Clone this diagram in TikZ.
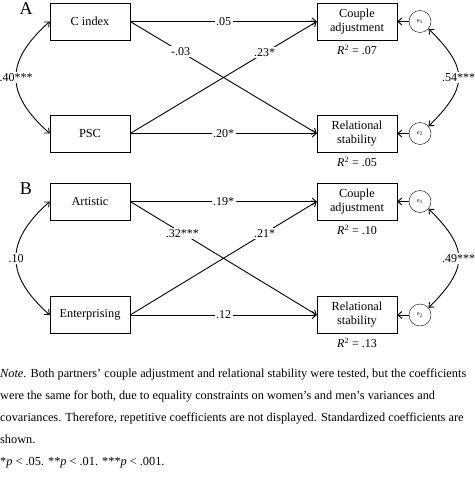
\documentclass[tikz,border=0pt]{standalone}
\usepackage{fontspec}
\setmainfont{Liberation Serif}
\usepackage{tikz}
\usetikzlibrary{arrows.meta,positioning}

\begin{document}
\begin{tikzpicture}[
    x=1pt, y=-1pt,
    node distance=1pt,
    box/.style={rectangle, draw, minimum width=80pt, minimum height=37pt, align=center, font=\fontsize{12.3}{14}\selectfont},
    err/.style={circle, draw, minimum size=22pt, inner sep=0pt, font=\fontsize{6}{7}\selectfont},
    coef/.style={fill=white, inner sep=1.5pt, font=\fontsize{12}{14}\selectfont},
    rsq/.style={font=\fontsize{12}{14}\selectfont},
    arrow/.style={->, >={Straight Barb[length=4pt,width=7pt]}, line width=0.9pt},
    both/.style={<->, >={Straight Barb[length=4pt,width=7pt]}, line width=0.9pt}
]
\useasboundingbox (0,0) rectangle (474,481);

% panel A
\node[font=\fontsize{18}{20}\selectfont] (labela) at (26,9) {A};
\node[box] (cindex) at (90,21.5) {C index};
\node[box] (psc) at (90,133.5) {PSC};
\node[box] (coupa) at (357,21.5) {Couple\\adjustment};
\node[box] (staba) at (357,133.5) {Relational\\stability};
\node[rsq, below=of coupa] (rcoupa) {\textit{R}\textsuperscript{2} = .07};
\node[rsq, below=of staba] (rstaba) {\textit{R}\textsuperscript{2} = .05};
\node[err] (e1a) at (420,21.5) {e\textsubscript{1}};
\node[err] (e2a) at (420,133.5) {e\textsubscript{2}};

\draw[arrow] (cindex) -- node[coef] {.05} (coupa);
\draw[arrow] (cindex.east) -- node[coef, pos=0.27] {-.03} (staba.west);
\draw[arrow] (psc.east) -- node[coef, pos=0.72] {.23*} (coupa.west);
\draw[arrow] (psc) -- node[coef] {.20*} (staba);
\draw[both] (cindex.west) .. controls +(-45,40) and +(-45,-40) .. node[coef] {.40***} (psc.west);
\draw[arrow] (e1a) -- (coupa);
\draw[arrow] (e2a) -- (staba);
\draw[both] (e1a.-40) .. controls +(40,40) and +(40,-40) .. node[coef] {.54***} (e2a.40);

% panel B
\node[font=\fontsize{18}{20}\selectfont] (labelb) at (26,189) {B};
\node[box] (artistic) at (90,201.5) {Artistic};
\node[box] (enterp) at (90,315) {Enterprising};
\node[box] (coupb) at (357,201.5) {Couple\\adjustment};
\node[box] (stabb) at (357,315) {Relational\\stability};
\node[rsq, below=of coupb] (rcoupb) {\textit{R}\textsuperscript{2} = .10};
\node[rsq, below=of stabb] (rstabb) {\textit{R}\textsuperscript{2} = .13};
\node[err] (e1b) at (420,201.5) {e\textsubscript{1}};
\node[err] (e2b) at (420,315) {e\textsubscript{2}};

\draw[arrow] (artistic) -- node[coef] {.19*} (coupb);
\draw[arrow] (artistic.east) -- node[coef, pos=0.28] {.32***} (stabb.west);
\draw[arrow] (enterp.east) -- node[coef, pos=0.72] {.21*} (coupb.west);
\draw[arrow] (enterp) -- node[coef] {.12} (stabb);
\draw[both] (artistic.west) .. controls +(-45,40) and +(-45,-40) .. node[coef] {.10} (enterp.west);
\draw[arrow] (e1b) -- (coupb);
\draw[arrow] (e2b) -- (stabb);
\draw[both] (e1b.-40) .. controls +(40,40) and +(40,-40) .. node[coef] {.49***} (e2b.40);

% note
\node[anchor=base west, inner sep=0pt, font=\fontsize{12.3}{14}\selectfont] (note1) at (0,377) {\textit{Note}. Both partners’ couple adjustment and relational stability were tested, but the coefficients};
\node[anchor=base west, inner sep=0pt, font=\fontsize{12.3}{14}\selectfont] (note2) at (0,399) {were the same for both, due to equality constraints on women’s and men’s variances and};
\node[anchor=base west, inner sep=0pt, font=\fontsize{12.3}{14}\selectfont] (note3) at (0,421) {covariances. Therefore, repetitive coefficients are not displayed. Standardized coefficients are};
\node[anchor=base west, inner sep=0pt, font=\fontsize{12.3}{14}\selectfont] (note4) at (0,443) {shown.};
\node[anchor=base west, inner sep=0pt, font=\fontsize{12.3}{14}\selectfont] (note5) at (0,465) {*\textit{p} < .05. **\textit{p} < .01. ***\textit{p} < .001.};
\end{tikzpicture}
\end{document}
